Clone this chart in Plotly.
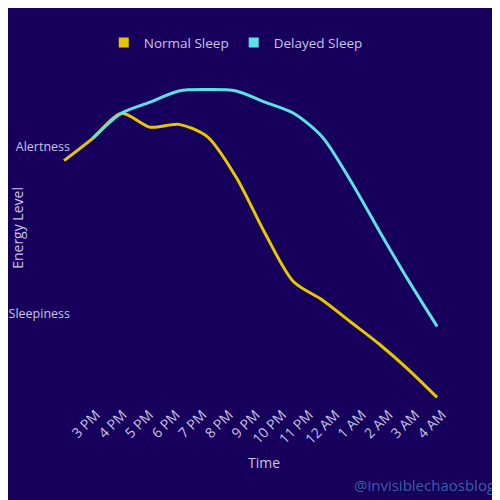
import plotly.graph_objects as go

times = ['3 PM', '4 PM', '5 PM', '6 PM', '7 PM', '8 PM', '9 PM', '10 PM',
         '11 PM', '12 AM', '1 AM', '2 AM', '3 AM', '4 AM']
hours = list(range(len(times)))
normal = [8.5, 9.3, 10.2, 9.7, 9.8, 9.35, 7.9, 5.9, 4.15, 3.5, 2.7, 1.9, 1.0, 0.0]
delayed = [None, 9.3, 10.2, 10.6, 11.0, 11.05, 11.0, 10.6, 10.2, 9.35, 7.75, 5.95, 4.2, 2.55]
level_vals = [3, 9]
level_text = ['Sleepiness', 'Alertness']

bg = '#17005b'
yellow = '#e6c800'
cyan = '#5ce1e6'
txt = '#c9c3e6'

fig = go.Figure()
fig.add_trace(go.Scatter(x=hours, y=normal, mode='lines', showlegend=False,
                         line=dict(color=yellow, width=3, shape='spline', smoothing=0.8)))
# cyan drawn over yellow where they overlap
fig.add_trace(go.Scatter(x=hours, y=delayed, mode='lines', showlegend=False,
                         line=dict(color=cyan, width=3, shape='spline', smoothing=0.8)))

# legend entries with square swatches
fig.add_trace(go.Scatter(x=[None], y=[None], mode='markers', name='Normal Sleep',
                         marker=dict(symbol='square', color=yellow, size=10)))
fig.add_trace(go.Scatter(x=[None], y=[None], mode='markers', name='Delayed Sleep',
                         marker=dict(symbol='square', color=cyan, size=10)))

# page body has an 8px margin, so the figure is 492 px square
fig.update_layout(
    width=492, height=492,
    paper_bgcolor=bg, plot_bgcolor=bg,
    font=dict(family='Open Sans', color=txt, size=13),
    margin=dict(l=42, r=22, t=69, b=97),
    legend=dict(orientation='h', x=0.434, xanchor='center', y=1.105, yanchor='middle',
                font=dict(size=13.5), itemwidth=30, bgcolor='rgba(0,0,0,0)'),
    xaxis=dict(range=[-0.488, 14.425], showgrid=False, zeroline=False, showline=False,
               automargin=False,
               tickmode='array', tickvals=[1.115 + 0.927 * h for h in hours],
               ticktext=times, tickangle=-45, tickfont=dict(size=14),
               title=dict(text='Time', font=dict(size=14), standoff=11)),
    yaxis=dict(range=[-0.2, 11.5], showgrid=False, zeroline=False, showline=False,
               automargin=False,
               tickmode='array', tickvals=level_vals, ticktext=level_text,
               tickfont=dict(size=12.5), ticklabelstandoff=-21),
    annotations=[
        dict(text='Energy Level', xref='paper', yref='paper', x=-0.075, y=0.537,
             xanchor='center', yanchor='middle',
             textangle=-90, showarrow=False, font=dict(size=14)),
        dict(text='@invisiblechaosblog', xref='paper', yref='paper',
             x=1.044, y=-0.288, xanchor='right', yanchor='bottom', showarrow=False,
             font=dict(size=15, color='#3a5fa8')),
    ],
)

fig.write_html('out.html')
